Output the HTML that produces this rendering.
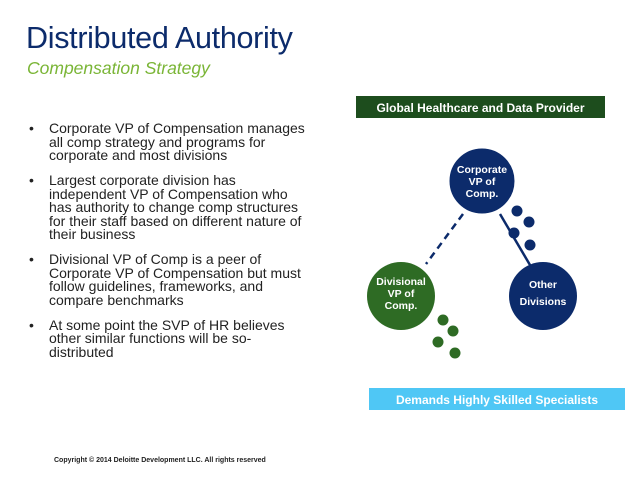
<!DOCTYPE html>
<html><head><style>
body{margin:0;width:638px;height:478px;background:#fff;position:relative;font-family:"Liberation Sans",sans-serif;overflow:hidden}
.t{position:absolute;left:26px;top:21px;font-size:30.5px;color:#0c2b6b;letter-spacing:-0.3px}
.s{position:absolute;left:27px;top:58px;font-size:17.5px;color:#7ab536;font-style:italic}
ul{position:absolute;left:26px;top:122px;margin:0;padding:0;list-style:none;width:320px;font-size:14px;line-height:13.5px;color:#222;white-space:nowrap}
li{position:relative;padding-left:23px;margin-bottom:11.5px}
li:before{content:"•";position:absolute;left:3px}
.c{position:absolute;left:54px;top:457px;font-size:7px;font-weight:bold;color:#222}
</style></head><body>
<div class="t">Distributed Authority</div>
<div class="s">Compensation Strategy</div>
<ul>
<li>Corporate VP of Compensation manages<br>all comp strategy and programs for<br>corporate and most divisions</li>
<li>Largest corporate division has<br>independent VP of Compensation who<br>has authority to change comp structures<br>for their staff based on different nature of<br>their business</li>
<li>Divisional VP of Comp is a peer of<br>Corporate VP of Compensation but must<br>follow guidelines, frameworks, and<br>compare benchmarks</li>
<li>At some point the SVP of HR believes<br>other similar functions will be so-<br>distributed</li>
</ul>
<div class="c">Copyright © 2014 Deloitte Development LLC. All rights reserved</div>
<svg width="638" height="478" style="position:absolute;left:0;top:0" font-family="Liberation Sans, sans-serif" font-weight="bold">
<rect x="356" y="96" width="249" height="22" fill="#1d4d1d"/>
<text x="480.5" y="112" fill="#fff" font-size="12" text-anchor="middle">Global Healthcare and Data Provider</text>
<line x1="463" y1="214" x2="426" y2="264" stroke="#0c2b6b" stroke-width="2.5" stroke-dasharray="7,5"/>
<line x1="500" y1="214" x2="530" y2="265" stroke="#0c2b6b" stroke-width="2.5"/>
<circle cx="482" cy="181" r="33" fill="#0c2b6b" stroke="#fff" stroke-width="1"/>
<text fill="#fff" font-size="10.5" text-anchor="middle"><tspan x="482" y="173">Corporate</tspan><tspan x="482" y="185">VP of</tspan><tspan x="482" y="197">Comp.</tspan></text>
<circle cx="401" cy="296" r="34" fill="#2e6b24"/>
<text fill="#fff" font-size="10.5" text-anchor="middle"><tspan x="401" y="285">Divisional</tspan><tspan x="401" y="297">VP of</tspan><tspan x="401" y="309">Comp.</tspan></text>
<circle cx="543" cy="296" r="34" fill="#0c2b6b"/>
<text fill="#fff" font-size="10.5" text-anchor="middle"><tspan x="543" y="288">Other</tspan><tspan x="543" y="305">Divisions</tspan></text>
<g fill="#0c2b6b"><circle cx="517" cy="211" r="5.5"/><circle cx="529" cy="222" r="5.5"/><circle cx="514" cy="233" r="5.5"/><circle cx="530" cy="245" r="5.5"/></g>
<g fill="#2e6b24"><circle cx="443" cy="320" r="5.5"/><circle cx="453" cy="331" r="5.5"/><circle cx="438" cy="342" r="5.5"/><circle cx="455" cy="353" r="5.5"/></g>
<rect x="369" y="388" width="256" height="22" fill="#4fc7f5"/>
<text x="497" y="404" fill="#fff" font-size="12" text-anchor="middle">Demands Highly Skilled Specialists</text>
</svg>
</body></html>
